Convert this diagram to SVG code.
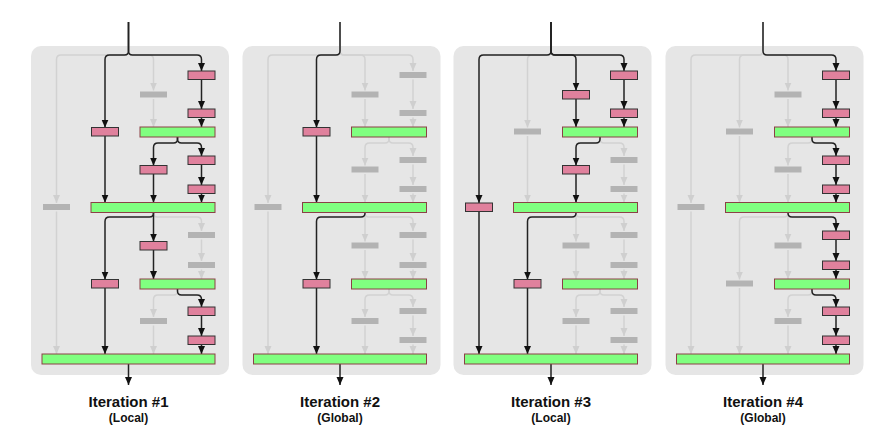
<svg xmlns="http://www.w3.org/2000/svg" width="894" height="434" viewBox="0 0 894 434">
<defs>
<style>
.bg{fill:#e6e6e6}
.on{fill:none;stroke:#222;stroke-width:1.5;marker-end:url(#aOn)}
.off{fill:none;stroke:#d2d2d2;stroke-width:1.5;marker-end:url(#aOff)}
.pk{fill:#e0819d;stroke:#333;stroke-width:1}
.gy{fill:#b3b3b3}
.gr{fill:#80ff80;stroke:#8b4046;stroke-width:1}
.t1{font-family:"Liberation Sans",Arial,sans-serif;font-weight:bold;font-size:15px;text-anchor:middle;fill:#111}
.t2{font-family:"Liberation Sans",Arial,sans-serif;font-weight:bold;font-size:12px;text-anchor:middle;fill:#111}
</style>
<marker id="aOn" markerUnits="userSpaceOnUse" markerWidth="8" markerHeight="8" refX="8" refY="3.5" orient="auto"><path d="M0,0 L8,3.5 L0,7 z" fill="#111"/></marker>
<marker id="aOff" markerUnits="userSpaceOnUse" markerWidth="8" markerHeight="8" refX="8" refY="3.5" orient="auto"><path d="M0,0 L8,3.5 L0,7 z" fill="#cfcfcf"/></marker>
</defs>

<!-- Panel 1 -->
<g id="panel1">
<rect class="bg" x="31" y="46" width="198" height="329" rx="10"/>
<g id="p1-connectors">
<path class="off" d="M128.5,22 V51 q0,4 -4,4 H61 q-4.5,0 -4.5,4.5 V203"/>
<path class="off" d="M128.5,22 V51 q0,4 4,4 H149 q4.5,0 4.5,4.5 V90.5"/>
<path class="off" d="M153.5,99 V127"/>
<path class="off" d="M153.5,212.5 V213 q0,4 4,4 H197 q4.5,0 4.5,4.5 V231"/>
<path class="off" d="M201.5,239.5 V261"/>
<path class="off" d="M201.5,269.5 V279"/>
<path class="off" d="M177.5,289 V291 q0,4 -4,4 H158 q-4.5,0 -4.5,4.5 V317"/>
<path class="off" d="M153.5,325.5 V354"/>
<path class="off" d="M56.5,211.5 V354"/>
<path class="on" d="M128.5,22 V51 q0,4 -4,4 H109.5 q-4.5,0 -4.5,4.5 V127.5"/>
<path class="on" d="M128.5,22 V51 q0,4 4,4 H197 q4.5,0 4.5,4.5 V71"/>
<path class="on" d="M201.5,79.5 V109"/>
<path class="on" d="M201.5,117.5 V127"/>
<path class="on" d="M105,136 V202.5"/>
<path class="on" d="M177.5,137 V139 q0,4 -4,4 H158 q-4.5,0 -4.5,4.5 V165.5"/>
<path class="on" d="M177.5,137 V139 q0,4 4,4 H197 q4.5,0 4.5,4.5 V156"/>
<path class="on" d="M201.5,164.5 V185"/>
<path class="on" d="M201.5,193.5 V202.5"/>
<path class="on" d="M153.5,174 V202.5"/>
<path class="on" d="M153.5,212.5 V213 q0,4 -4,4 H109.5 q-4.5,0 -4.5,4.5 V279.5"/>
<path class="on" d="M153.5,212.5 V241.5"/>
<path class="on" d="M153.5,250 V279"/>
<path class="on" d="M177.5,289 V291 q0,4 4,4 H197 q4.5,0 4.5,4.5 V307"/>
<path class="on" d="M201.5,315.5 V336"/>
<path class="on" d="M201.5,344.5 V354"/>
<path class="on" d="M105,288 V354"/>
<path class="on" d="M128.5,364 V385"/>
</g>
<g id="p1-n1"><rect class="pk" x="188" y="71" width="27" height="8.5"/></g>
<g id="p1-n2"><rect class="pk" x="188" y="109" width="27" height="8.5"/></g>
<g id="p1-n3"><rect class="gy" x="140" y="91.5" width="27" height="6"/></g>
<g id="p1-n4"><rect class="pk" x="91.5" y="127.5" width="27" height="8.5"/></g>
<g id="p1-g1"><rect class="gr" x="140" y="127" width="75" height="10"/></g>
<g id="p1-n5"><rect class="pk" x="188" y="156" width="27" height="8.5"/></g>
<g id="p1-n6"><rect class="pk" x="188" y="185" width="27" height="8.5"/></g>
<g id="p1-n7"><rect class="pk" x="140" y="165.5" width="27" height="8.5"/></g>
<g id="p1-n8"><rect class="gy" x="43" y="204" width="27" height="6"/></g>
<g id="p1-g2"><rect class="gr" x="91" y="202.5" width="124" height="10"/></g>
<g id="p1-n9"><rect class="pk" x="140" y="241.5" width="27" height="8.5"/></g>
<g id="p1-n10"><rect class="gy" x="188" y="232" width="27" height="6"/></g>
<g id="p1-n11"><rect class="gy" x="188" y="262" width="27" height="6"/></g>
<g id="p1-n12"><rect class="pk" x="91.5" y="279.5" width="27" height="8.5"/></g>
<g id="p1-g3"><rect class="gr" x="140" y="279" width="75" height="10"/></g>
<g id="p1-n13"><rect class="gy" x="140" y="318" width="27" height="6"/></g>
<g id="p1-n14"><rect class="pk" x="188" y="307" width="27" height="8.5"/></g>
<g id="p1-n15"><rect class="pk" x="188" y="336" width="27" height="8.5"/></g>
<g id="p1-g4"><rect class="gr" x="42" y="354" width="173" height="10"/></g>
<g id="p1-label"><text class="t1" x="128.5" y="407">Iteration #1</text><text class="t2" x="128.5" y="422">(Local)</text></g>
</g>

<!-- Panel 2 -->
<g id="panel2" transform="translate(211.5,0)">
<rect class="bg" x="31" y="46" width="198" height="329" rx="10"/>
<g id="p2-connectors">
<path class="off" d="M128.5,22 V51 q0,4 -4,4 H61 q-4.5,0 -4.5,4.5 V203"/>
<path class="off" d="M128.5,22 V51 q0,4 4,4 H149 q4.5,0 4.5,4.5 V90.5"/>
<path class="off" d="M128.5,22 V51 q0,4 4,4 H197 q4.5,0 4.5,4.5 V71"/>
<path class="off" d="M201.5,79.5 V109"/>
<path class="off" d="M201.5,117.5 V127"/>
<path class="off" d="M153.5,99 V127"/>
<path class="off" d="M177.5,137 V139 q0,4 -4,4 H158 q-4.5,0 -4.5,4.5 V165.5"/>
<path class="off" d="M177.5,137 V139 q0,4 4,4 H197 q4.5,0 4.5,4.5 V156"/>
<path class="off" d="M201.5,164.5 V185"/>
<path class="off" d="M201.5,193.5 V202.5"/>
<path class="off" d="M153.5,174 V202.5"/>
<path class="off" d="M153.5,212.5 V241.5"/>
<path class="off" d="M153.5,212.5 V213 q0,4 4,4 H197 q4.5,0 4.5,4.5 V231"/>
<path class="off" d="M153.5,250 V279"/>
<path class="off" d="M201.5,239.5 V261"/>
<path class="off" d="M201.5,269.5 V279"/>
<path class="off" d="M177.5,289 V291 q0,4 -4,4 H158 q-4.5,0 -4.5,4.5 V317"/>
<path class="off" d="M177.5,289 V291 q0,4 4,4 H197 q4.5,0 4.5,4.5 V307"/>
<path class="off" d="M153.5,325.5 V354"/>
<path class="off" d="M201.5,315.5 V336"/>
<path class="off" d="M201.5,344.5 V354"/>
<path class="off" d="M56.5,211.5 V354"/>
<path class="on" d="M128.5,22 V51 q0,4 -4,4 H109.5 q-4.5,0 -4.5,4.5 V127.5"/>
<path class="on" d="M105,136 V202.5"/>
<path class="on" d="M153.5,212.5 V213 q0,4 -4,4 H109.5 q-4.5,0 -4.5,4.5 V279.5"/>
<path class="on" d="M105,288 V354"/>
<path class="on" d="M128.5,364 V385"/>
</g>
<g id="p2-n1"><rect class="gy" x="188" y="72" width="27" height="6"/></g>
<g id="p2-n2"><rect class="gy" x="188" y="110" width="27" height="6"/></g>
<g id="p2-n3"><rect class="gy" x="140" y="91.5" width="27" height="6"/></g>
<g id="p2-n4"><rect class="pk" x="91.5" y="127.5" width="27" height="8.5"/></g>
<g id="p2-g1"><rect class="gr" x="140" y="127" width="75" height="10"/></g>
<g id="p2-n5"><rect class="gy" x="188" y="157" width="27" height="6"/></g>
<g id="p2-n6"><rect class="gy" x="188" y="186" width="27" height="6"/></g>
<g id="p2-n7"><rect class="gy" x="140" y="166.5" width="27" height="6"/></g>
<g id="p2-n8"><rect class="gy" x="43" y="204" width="27" height="6"/></g>
<g id="p2-g2"><rect class="gr" x="91" y="202.5" width="124" height="10"/></g>
<g id="p2-n9"><rect class="gy" x="140" y="242.5" width="27" height="6"/></g>
<g id="p2-n10"><rect class="gy" x="188" y="232" width="27" height="6"/></g>
<g id="p2-n11"><rect class="gy" x="188" y="262" width="27" height="6"/></g>
<g id="p2-n12"><rect class="pk" x="91.5" y="279.5" width="27" height="8.5"/></g>
<g id="p2-g3"><rect class="gr" x="140" y="279" width="75" height="10"/></g>
<g id="p2-n13"><rect class="gy" x="140" y="318" width="27" height="6"/></g>
<g id="p2-n14"><rect class="gy" x="188" y="308" width="27" height="6"/></g>
<g id="p2-n15"><rect class="gy" x="188" y="337" width="27" height="6"/></g>
<g id="p2-g4"><rect class="gr" x="42" y="354" width="173" height="10"/></g>
<g id="p2-label"><text class="t1" x="128.5" y="407">Iteration #2</text><text class="t2" x="128.5" y="422">(Global)</text></g>
</g>

<!-- Panel 3 -->
<g id="panel3" transform="translate(422.5,0)">
<rect class="bg" x="31" y="46" width="198" height="329" rx="10"/>
<g id="p3-connectors">
<path class="off" d="M128.5,22 V51 q0,4 -4,4 H109.5 q-4.5,0 -4.5,4.5 V127.5"/>
<path class="off" d="M105,136 V202.5"/>
<path class="off" d="M177.5,137 V139 q0,4 4,4 H197 q4.5,0 4.5,4.5 V156"/>
<path class="off" d="M201.5,164.5 V185"/>
<path class="off" d="M201.5,193.5 V202.5"/>
<path class="off" d="M153.5,212.5 V241.5"/>
<path class="off" d="M153.5,212.5 V213 q0,4 4,4 H197 q4.5,0 4.5,4.5 V231"/>
<path class="off" d="M153.5,250 V279"/>
<path class="off" d="M201.5,239.5 V261"/>
<path class="off" d="M201.5,269.5 V279"/>
<path class="off" d="M177.5,289 V291 q0,4 -4,4 H158 q-4.5,0 -4.5,4.5 V317"/>
<path class="off" d="M177.5,289 V291 q0,4 4,4 H197 q4.5,0 4.5,4.5 V307"/>
<path class="off" d="M153.5,325.5 V354"/>
<path class="off" d="M201.5,315.5 V336"/>
<path class="off" d="M201.5,344.5 V354"/>
<path class="on" d="M128.5,22 V51 q0,4 -4,4 H61 q-4.5,0 -4.5,4.5 V203"/>
<path class="on" d="M128.5,22 V51 q0,4 4,4 H149 q4.5,0 4.5,4.5 V90.5"/>
<path class="on" d="M128.5,22 V51 q0,4 4,4 H197 q4.5,0 4.5,4.5 V71"/>
<path class="on" d="M201.5,79.5 V109"/>
<path class="on" d="M201.5,117.5 V127"/>
<path class="on" d="M153.5,99 V127"/>
<path class="on" d="M177.5,137 V139 q0,4 -4,4 H158 q-4.5,0 -4.5,4.5 V165.5"/>
<path class="on" d="M153.5,174 V202.5"/>
<path class="on" d="M153.5,212.5 V213 q0,4 -4,4 H109.5 q-4.5,0 -4.5,4.5 V279.5"/>
<path class="on" d="M105,288 V354"/>
<path class="on" d="M56.5,211.5 V354"/>
<path class="on" d="M128.5,364 V385"/>
</g>
<g id="p3-n1"><rect class="pk" x="188" y="71" width="27" height="8.5"/></g>
<g id="p3-n2"><rect class="pk" x="188" y="109" width="27" height="8.5"/></g>
<g id="p3-n3"><rect class="pk" x="140" y="90.5" width="27" height="8.5"/></g>
<g id="p3-n4"><rect class="gy" x="91.5" y="128.5" width="27" height="6"/></g>
<g id="p3-g1"><rect class="gr" x="140" y="127" width="75" height="10"/></g>
<g id="p3-n5"><rect class="gy" x="188" y="157" width="27" height="6"/></g>
<g id="p3-n6"><rect class="gy" x="188" y="186" width="27" height="6"/></g>
<g id="p3-n7"><rect class="pk" x="140" y="165.5" width="27" height="8.5"/></g>
<g id="p3-n8"><rect class="pk" x="43" y="203" width="27" height="8.5"/></g>
<g id="p3-g2"><rect class="gr" x="91" y="202.5" width="124" height="10"/></g>
<g id="p3-n9"><rect class="gy" x="140" y="242.5" width="27" height="6"/></g>
<g id="p3-n10"><rect class="gy" x="188" y="232" width="27" height="6"/></g>
<g id="p3-n11"><rect class="gy" x="188" y="262" width="27" height="6"/></g>
<g id="p3-n12"><rect class="pk" x="91.5" y="279.5" width="27" height="8.5"/></g>
<g id="p3-g3"><rect class="gr" x="140" y="279" width="75" height="10"/></g>
<g id="p3-n13"><rect class="gy" x="140" y="318" width="27" height="6"/></g>
<g id="p3-n14"><rect class="gy" x="188" y="308" width="27" height="6"/></g>
<g id="p3-n15"><rect class="gy" x="188" y="337" width="27" height="6"/></g>
<g id="p3-g4"><rect class="gr" x="42" y="354" width="173" height="10"/></g>
<g id="p3-label"><text class="t1" x="128.5" y="407">Iteration #3</text><text class="t2" x="128.5" y="422">(Local)</text></g>
</g>

<!-- Panel 4 -->
<g id="panel4" transform="translate(634.5,0)">
<rect class="bg" x="31" y="46" width="198" height="329" rx="10"/>
<g id="p4-connectors">
<path class="off" d="M128.5,22 V51 q0,4 -4,4 H61 q-4.5,0 -4.5,4.5 V203"/>
<path class="off" d="M128.5,22 V51 q0,4 -4,4 H109.5 q-4.5,0 -4.5,4.5 V127.5"/>
<path class="off" d="M128.5,22 V51 q0,4 4,4 H149 q4.5,0 4.5,4.5 V90.5"/>
<path class="off" d="M153.5,99 V127"/>
<path class="off" d="M105,136 V202.5"/>
<path class="off" d="M177.5,137 V139 q0,4 -4,4 H158 q-4.5,0 -4.5,4.5 V165.5"/>
<path class="off" d="M153.5,174 V202.5"/>
<path class="off" d="M153.5,212.5 V213 q0,4 -4,4 H109.5 q-4.5,0 -4.5,4.5 V279.5"/>
<path class="off" d="M153.5,212.5 V241.5"/>
<path class="off" d="M153.5,250 V279"/>
<path class="off" d="M177.5,289 V291 q0,4 -4,4 H158 q-4.5,0 -4.5,4.5 V317"/>
<path class="off" d="M153.5,325.5 V354"/>
<path class="off" d="M105,288 V354"/>
<path class="off" d="M56.5,211.5 V354"/>
<path class="on" d="M128.5,22 V51 q0,4 4,4 H197 q4.5,0 4.5,4.5 V71"/>
<path class="on" d="M201.5,79.5 V109"/>
<path class="on" d="M201.5,117.5 V127"/>
<path class="on" d="M177.5,137 V139 q0,4 4,4 H197 q4.5,0 4.5,4.5 V156"/>
<path class="on" d="M201.5,164.5 V185"/>
<path class="on" d="M201.5,193.5 V202.5"/>
<path class="on" d="M153.5,212.5 V213 q0,4 4,4 H197 q4.5,0 4.5,4.5 V231"/>
<path class="on" d="M201.5,239.5 V261"/>
<path class="on" d="M201.5,269.5 V279"/>
<path class="on" d="M177.5,289 V291 q0,4 4,4 H197 q4.5,0 4.5,4.5 V307"/>
<path class="on" d="M201.5,315.5 V336"/>
<path class="on" d="M201.5,344.5 V354"/>
<path class="on" d="M128.5,364 V385"/>
</g>
<g id="p4-n1"><rect class="pk" x="188" y="71" width="27" height="8.5"/></g>
<g id="p4-n2"><rect class="pk" x="188" y="109" width="27" height="8.5"/></g>
<g id="p4-n3"><rect class="gy" x="140" y="91.5" width="27" height="6"/></g>
<g id="p4-n4"><rect class="gy" x="91.5" y="128.5" width="27" height="6"/></g>
<g id="p4-g1"><rect class="gr" x="140" y="127" width="75" height="10"/></g>
<g id="p4-n5"><rect class="pk" x="188" y="156" width="27" height="8.5"/></g>
<g id="p4-n6"><rect class="pk" x="188" y="185" width="27" height="8.5"/></g>
<g id="p4-n7"><rect class="gy" x="140" y="166.5" width="27" height="6"/></g>
<g id="p4-n8"><rect class="gy" x="43" y="204" width="27" height="6"/></g>
<g id="p4-g2"><rect class="gr" x="91" y="202.5" width="124" height="10"/></g>
<g id="p4-n9"><rect class="gy" x="140" y="242.5" width="27" height="6"/></g>
<g id="p4-n10"><rect class="pk" x="188" y="231" width="27" height="8.5"/></g>
<g id="p4-n11"><rect class="pk" x="188" y="261" width="27" height="8.5"/></g>
<g id="p4-n12"><rect class="gy" x="91.5" y="280.5" width="27" height="6"/></g>
<g id="p4-g3"><rect class="gr" x="140" y="279" width="75" height="10"/></g>
<g id="p4-n13"><rect class="gy" x="140" y="318" width="27" height="6"/></g>
<g id="p4-n14"><rect class="pk" x="188" y="307" width="27" height="8.5"/></g>
<g id="p4-n15"><rect class="pk" x="188" y="336" width="27" height="8.5"/></g>
<g id="p4-g4"><rect class="gr" x="42" y="354" width="173" height="10"/></g>
<g id="p4-label"><text class="t1" x="128.5" y="407">Iteration #4</text><text class="t2" x="128.5" y="422">(Global)</text></g>
</g>
</svg>
